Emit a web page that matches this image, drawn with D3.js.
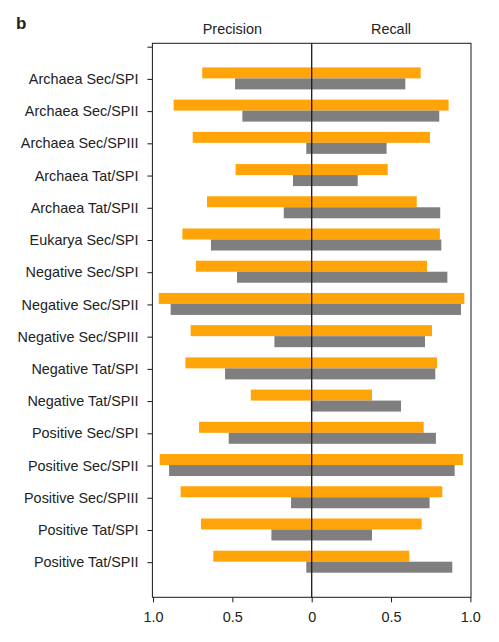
<!DOCTYPE html>
<html>
<head>
<meta charset="utf-8">
<script src="https://cdn.jsdelivr.net/npm/d3@7"></script>
<style>
  html, body { margin: 0; padding: 0; background: #fff; }
  svg { display: block; }
  text { font-family: "Liberation Sans", Arial, Helvetica, sans-serif; fill: #222; }
</style>
</head>
<body>
<svg id="chart" width="499" height="642"></svg>
<script>
const categories = [
  "Archaea Sec/SPI", "Archaea Sec/SPII", "Archaea Sec/SPIII", "Archaea Tat/SPI", "Archaea Tat/SPII",
  "Eukarya Sec/SPI", "Negative Sec/SPI", "Negative Sec/SPII", "Negative Sec/SPIII", "Negative Tat/SPI",
  "Negative Tat/SPII", "Positive Sec/SPI", "Positive Sec/SPII", "Positive Sec/SPIII", "Positive Tat/SPI",
  "Positive Tat/SPII"
];
// orange series
const orangePrecision = [0.69, 0.87, 0.75, 0.48, 0.66, 0.815, 0.73, 0.964, 0.763, 0.796, 0.384, 0.71, 0.958, 0.826, 0.698, 0.62];
const orangeRecall    = [0.687, 0.863, 0.745, 0.479, 0.662, 0.808, 0.727, 0.962, 0.758, 0.79, 0.38, 0.706, 0.953, 0.823, 0.693, 0.615];
// gray series
const grayPrecision = [0.483, 0.437, 0.034, 0.118, 0.176, 0.635, 0.471, 0.889, 0.235, 0.546, 0.006, 0.523, 0.899, 0.13, 0.254, 0.034];
const grayRecall    = [0.59, 0.804, 0.472, 0.29, 0.81, 0.817, 0.855, 0.941, 0.714, 0.779, 0.563, 0.783, 0.901, 0.743, 0.38, 0.886];
const xTicks = [-1, -0.5, 0, 0.5, 1];
const xTickLabels = ["1.0", "0.5", "0", "0.5", "1.0"];
const panelHeaders = ["Precision", "Recall"];
const panelLetter = "b";

const svg = d3.select("#chart");
const FS = 14.4;

const x = d3.scaleLinear().domain([-1.004, 1.004]).range([152.4, 471.0]);
const y = d3.scaleLinear().domain([-0.105, 17.09]).range([43.3, 597.3]);

const rows = categories.map((c, i) => ({
  name: c, pos: i + 1,
  op: orangePrecision[i], or: orangeRecall[i],
  gp: grayPrecision[i], gr: grayRecall[i]
}));

// bars
const g = svg.append("g");
g.selectAll("rect.orange").data(rows).join("rect")
  .attr("class", "orange")
  .attr("x", d => x(-d.op))
  .attr("width", d => x(d.or) - x(-d.op))
  .attr("y", d => y(d.pos) - 11.5)
  .attr("height", 11)
  .attr("fill", "#FFA50A");
g.selectAll("rect.gray").data(rows).join("rect")
  .attr("class", "gray")
  .attr("x", d => x(-d.gp))
  .attr("width", d => x(d.gr) - x(-d.gp))
  .attr("y", d => y(d.pos) - 0.5)
  .attr("height", 11)
  .attr("fill", "#7F7F7F");

// zero line
svg.append("line")
  .attr("x1", x(0)).attr("x2", x(0))
  .attr("y1", y.range()[0]).attr("y2", y.range()[1])
  .attr("stroke", "#1a1a1a").attr("stroke-width", 1.3);

// box
svg.append("rect")
  .attr("x", x.range()[0]).attr("y", y.range()[0])
  .attr("width", x.range()[1] - x.range()[0])
  .attr("height", y.range()[1] - y.range()[0])
  .attr("fill", "none").attr("stroke", "#1a1a1a").attr("stroke-width", 1);

// left axis
const yAxis = d3.axisLeft(y)
  .tickValues(d3.range(0, 17))
  .tickFormat(v => v === 0 ? "" : categories[v - 1])
  .tickSize(5).tickPadding(9);
const ya = svg.append("g").attr("transform", `translate(${x.range()[0]},0)`).call(yAxis);
ya.select(".domain").remove();
ya.selectAll("line").attr("stroke", "#1a1a1a");
ya.selectAll("text").attr("font-size", FS).attr("fill", "#222")
  .attr("font-family", "'Liberation Sans', Arial, sans-serif");

// bottom axis
const xAxis = d3.axisBottom(x)
  .tickValues(xTicks)
  .tickFormat((v, i) => xTickLabels[i])
  .tickSize(5).tickPadding(9);
const xa = svg.append("g").attr("transform", `translate(0,${y.range()[1]})`).call(xAxis);
xa.select(".domain").remove();
xa.selectAll("line").attr("stroke", "#1a1a1a");
xa.selectAll("text").attr("font-size", FS).attr("fill", "#222")
  .attr("font-family", "'Liberation Sans', Arial, sans-serif");

// headers
svg.selectAll("text.hdr").data(panelHeaders).join("text")
  .attr("class", "hdr")
  .attr("x", (d, i) => x(i === 0 ? -0.5 : 0.5))
  .attr("y", 34)
  .attr("text-anchor", "middle")
  .attr("font-size", FS)
  .text(d => d);

// panel letter
svg.append("text")
  .attr("x", 16).attr("y", 28.5)
  .attr("font-size", 17).attr("font-weight", "bold")
  .attr("fill", "#111")
  .text(panelLetter);
</script>
</body>
</html>
